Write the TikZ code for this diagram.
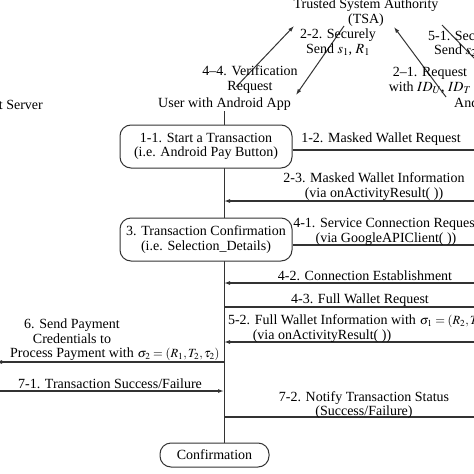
\documentclass[tikz,border=0pt]{standalone}
\usepackage{mathptmx}
\usepackage{fontspec}
\setmainfont{Liberation Serif}
\usepackage{tikz}
\usetikzlibrary{arrows.meta, positioning, calc, backgrounds}
\definecolor{ink}{HTML}{333333}

\begin{document}
\begin{tikzpicture}[x=1pt, y=-1pt, >={Latex[length=6pt,width=4pt]},
  font=\fontsize{14}{14.5}\selectfont,
  lbl/.style={inner sep=0pt, align=center},
  sig/.style={inner sep=0pt, anchor=base west, xshift=3.5pt, font=\fontsize{12.5}{14}\selectfont},
  msg/.style={draw=ink, line width=1.1pt},
  stepbox/.style={draw=ink, line width=1pt, rounded corners=11pt, fill=white,
    minimum width=172pt, minimum height=43pt, align=center, inner sep=2pt}]
  \useasboundingbox (0,0) rectangle (474,474);
  \clip (0,0) rectangle (474,474);
  % parties
  \node[lbl] (tsa) at (366,12.5) {Trusted System Authority\\(TSA)};
  \node[lbl] (server) at (-4,104.5) {Merchant Server};
  \node[lbl] (user) at (224.5,104.5) {User with Android App};
  \node[lbl, anchor=west] (apay) at (454,104.5) {Android Pay};
  \coordinate (msl) at (-4,110);
  \coordinate (apl) at (505,110);
  % steps of the user
  \node[stepbox] (start) at (206,146.5) {1-1. Start a Transaction\\(i.e. Android Pay Button)};
  \node[stepbox] (confirm) at (206,239.5) {3. Transaction Confirmation\\(i.e. Selection\_Details)};
  \node[stepbox, minimum width=109pt, minimum height=24pt] (done) at (214.5,455) {Confirmation};
  \begin{scope}[on background layer]
    \draw[msg] (user.south) -- (user.south |- done.north);
  \end{scope}
  % exchanges with the TSA
  \coordinate (v44a) at (236,87);  \coordinate (v44b) at (294,26);
  \coordinate (s22a) at (344,26);  \coordinate (s22b) at (296,95);
  \coordinate (r21a) at (446,97);  \coordinate (r21b) at (394,27);
  \coordinate (s51a) at (442,25);  \coordinate (s51b) at (505,90);
  \draw[msg, line width=1pt, ->] (v44a) -- (v44b);
  \draw[msg, line width=1pt, ->] (s22a) -- (s22b);
  \draw[msg, line width=1pt, ->] (r21a) -- (r21b);
  \draw[msg, line width=1pt, ->] (s51a) -- (s51b);
  \node[lbl] at (250,79.5) {4--4. Verification\\Request};
  \node[lbl] at (338,42) {2-2. Securely\\Send $s_1$, $R_1$};
  \node[lbl] at (430,80.5) {2--1. Request\\with $ID_U$, $ID_T$};
  \node[lbl] at (466,43.5) {5-1. Securely\\Send $s_2$, $R_2$};
  % messages along the lifeline
  \coordinate (m12) at (224,150);
  \coordinate (m23) at (224,201);
  \coordinate (m41) at (224,245);
  \coordinate (m42) at (224,283);
  \coordinate (m43) at (224,307);
  \coordinate (m52) at (224,342);
  \coordinate (m6) at (224,362);
  \coordinate (m71) at (224,391);
  \coordinate (m72) at (224,417);
  \draw[msg, ->] (start.east |- m12) -- (m12 -| apl);
  \draw[msg, ->] (m23 -| apl) -- (m23);
  \draw[msg, ->] (confirm.east |- m41) -- (m41 -| apl);
  \draw[msg, ->] (m42 -| apl) -- (m42);
  \draw[msg, ->] (m43) -- (m43 -| apl);
  \draw[msg, ->] (m52 -| apl) -- (m52);
  \draw[msg, ->] (m6) -- (m6 -| msl);
  \draw[msg, ->] (m71 -| msl) -- (m71);
  \draw[msg, ->] (m72) -- (m72 -| apl);
  \node[lbl] at (381,139.5) {1-2. Masked Wallet Request};
  \node[lbl] at (374,186.5) {2-3. Masked Wallet Information\\(via onActivityResult( ))};
  \node[lbl] at (386,232) {4-1. Service Connection Request\\(via GoogleAPIClient( ))};
  \node[lbl] at (365,275.5) {4-2. Connection Establishment};
  \node[lbl] at (360,300.5) {4-3. Full Wallet Request};
  \node[lbl, anchor=base] (full52) at (322,324.8) {5-2. Full Wallet Information with};
  \node[sig] at (full52.base east) {$\sigma_1=(R_2,T_1,\tau_1)$};
  \node[lbl, anchor=base] at (322,339.3) {(via onActivityResult( ))};
  \node[lbl, anchor=base] at (72,328.5) {6. Send Payment};
  \node[lbl, anchor=base] at (72,343) {Credentials to};
  \node[lbl, anchor=base] (proc6) at (72,357.5) {Process Payment with};
  \node[sig] at (proc6.base east) {$\sigma_2=(R_1,T_2,\tau_2)$};
  \node[lbl] at (110,383.5) {7-1. Transaction Success/Failure};
  \node[lbl] at (364,405) {7-2. Notify Transaction Status\\(Success/Failure)};
\end{tikzpicture}
\end{document}
